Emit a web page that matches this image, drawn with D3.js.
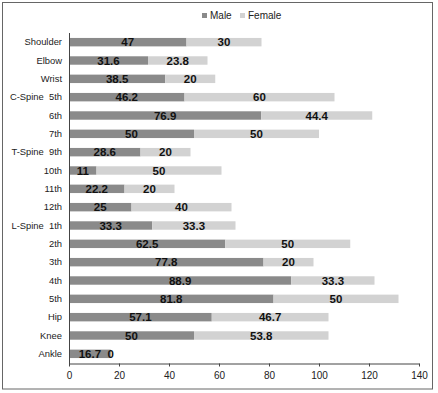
<!DOCTYPE html>
<html>
<head>
<meta charset="utf-8">
<script src="https://cdn.jsdelivr.net/npm/d3@7"></script>
<style>
  body { margin: 0; background: #fff; }
  text { font-family: "Liberation Sans", Arial, sans-serif; }
</style>
</head>
<body>
<div id="chart"></div>
<script>
// categories top to bottom
var categories = ["Shoulder", "Elbow", "Wrist", "C-Spine  5th", "6th", "7th", "T-Spine  9th", "10th", "11th", "12th",
  "L-Spine  1th", "2th", "3th", "4th", "5th", "Hip", "Knee", "Ankle"];
var maleValues = [47, 31.6, 38.5, 46.2, 76.9, 50, 28.6, 11, 22.2, 25, 33.3, 62.5, 77.8, 88.9, 81.8, 57.1, 50, 16.7];
var femaleValues = [30, 23.8, 20, 60, 44.4, 50, 20, 50, 20, 40, 33.3, 50, 20, 33.3, 50, 46.7, 53.8, 0];
var seriesNames = ["Male", "Female"];
var xTicks = [0, 20, 40, 60, 80, 100, 120, 140];

var colors = { Male: "#8a8a8a", Female: "#d2d2d2" };

var W = 438, H = 393;
var margin = { top: 33, left: 69, right: 19, bottom: 30 };

var svg = d3.select("#chart").append("svg")
  .attr("width", W).attr("height", H);

// outer frame
svg.append("rect")
  .attr("x", 2.5).attr("y", 2.5)
  .attr("width", 430).attr("height", 386.5)
  .attr("fill", "none").attr("stroke", "#666").attr("stroke-width", 1);

var x = d3.scaleLinear().domain([0, 140]).range([margin.left, W - margin.right]);
var y = d3.scaleBand().domain(categories).range([margin.top, H - margin.bottom]).paddingInner(0.54).paddingOuter(0.27);

var rows = categories.map(function (c, i) {
  return { cat: c, Male: maleValues[i], Female: femaleValues[i] };
});
var stacked = d3.stack().keys(seriesNames)(rows);

var layers = svg.selectAll("g.layer").data(stacked).enter().append("g")
  .attr("fill", function (d) { return colors[d.key]; });

layers.selectAll("rect").data(function (d) { return d; }).enter().append("rect")
  .attr("x", function (d) { return x(d[0]); })
  .attr("y", function (d) { return y(d.data.cat); })
  .attr("width", function (d) { return x(d[1]) - x(d[0]); })
  .attr("height", y.bandwidth());

// value labels in the middle of each piece
stacked.forEach(function (s) {
  svg.selectAll(null).data(s).enter().append("text")
    .attr("x", function (d) { return (x(d[0]) + x(d[1])) / 2; })
    .attr("y", function (d) { return y(d.data.cat) + y.bandwidth() / 2; })
    .attr("dy", "0.36em")
    .attr("text-anchor", "middle")
    .attr("font-size", "11.5px")
    .attr("font-weight", "bold")
    .attr("fill", "#111")
    .text(function (d) { return d.data[s.key]; });
});

// y axis
var yAxis = svg.append("g")
  .attr("transform", "translate(" + margin.left + ",0)")
  .call(d3.axisLeft(y).tickSize(0).tickPadding(7));
yAxis.select(".domain").remove();
yAxis.selectAll("text").attr("font-size", "9.4px").attr("fill", "#222").style("white-space", "pre");
svg.append("line")
  .attr("x1", margin.left + 0.5).attr("x2", margin.left + 0.5)
  .attr("y1", margin.top).attr("y2", H - margin.bottom + 3)
  .attr("stroke", "#444");

// x axis
var xAxis = svg.append("g")
  .attr("transform", "translate(0," + (H - margin.bottom + 0.5) + ")")
  .call(d3.axisBottom(x).tickValues(xTicks).tickSize(3).tickSizeOuter(0).tickPadding(5));
xAxis.select(".domain").attr("stroke", "#444");
xAxis.selectAll("line").attr("stroke", "#444");
xAxis.selectAll("text").attr("font-size", "10px").attr("fill", "#222");

// legend
var legend = svg.append("g").attr("transform", "translate(202,13)");
var lx = 0;
seriesNames.forEach(function (name) {
  legend.append("rect").attr("x", lx).attr("y", 0).attr("width", 5).attr("height", 5)
    .attr("fill", colors[name]);
  legend.append("text").attr("x", lx + 8).attr("y", 2.5).attr("dy", "0.36em")
    .attr("font-size", "10px").attr("fill", "#222").text(name);
  lx += 38;
});
</script>
</body>
</html>
